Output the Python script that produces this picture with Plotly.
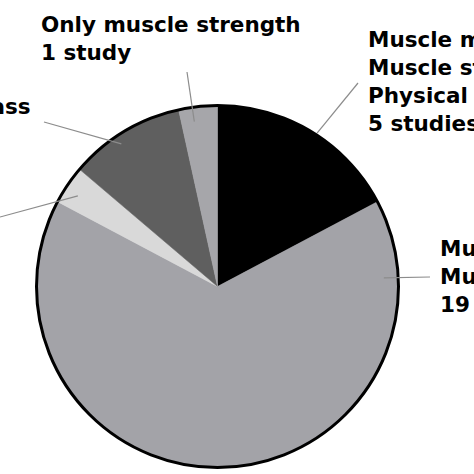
"""Pie chart of study outcome combinations."""

import math

import plotly.graph_objects as go

W = H = 474

labels = [
    "Muscle mass<br>Muscle strength<br>Physical performance<br>5 studies",
    "Muscle mass<br>Muscle strength<br>19 studies",
    "Muscle strength<br>Physical performance<br>1 study",
    "Only muscle mass<br>3 studies",
    "Only muscle strength<br>1 study",
]
studies = [5, 19, 1, 3, 1]
colors = ["#000000", "#a3a3a8", "#d9d9d9", "#5f5f5f", "#a6a6aa"]

# pie geometry in pixels
CX, CY, R = 217.5, 286.5, 181

# label boxes: (x px, y px, xanchor) and leader line (angle deg, r-fraction, end x px, end y px)
label_pos = [(366, 25, "left"), (438, 234, "left"), (-12, 200, "right"), (33, 92, "right"), (39, 10, "left")]
leaders = [(33, 1.01, 358, 83), (87, 0.92, 430, 277), (303, 0.92, 0, 217), (326, 0.95, 44, 122), (352, 0.92, 187, 72)]


def px(x):
    return x / W


def py(y):
    return 1 - y / H


fig = go.Figure(
    go.Pie(
        values=studies,
        labels=labels,
        sort=False,
        direction="clockwise",
        rotation=0,
        textinfo="none",
        hoverinfo="label+value",
        marker={"colors": colors, "line": {"color": colors, "width": 0.5}},
        domain={"x": [px(CX - R), px(CX + R)], "y": [py(CY + R), py(CY - R)]},
    )
)

shapes = [
    {
        "type": "circle", "xref": "paper", "yref": "paper",
        "x0": px(CX - R), "x1": px(CX + R), "y0": py(CY + R), "y1": py(CY - R),
        "line": {"color": "black", "width": 3}, "layer": "above",
    }
]
for ang, rf, ex, ey in leaders:
    a = math.radians(ang)
    sx = CX + rf * R * math.sin(a)
    sy = CY - rf * R * math.cos(a)
    shapes.append({
        "type": "line", "xref": "paper", "yref": "paper",
        "x0": px(sx), "y0": py(sy), "x1": px(ex), "y1": py(ey),
        "line": {"color": "#8c8c8c", "width": 1.2}, "layer": "above",
    })

annotations = []
for text, (x, y, anchor) in zip(labels, label_pos):
    annotations.append({
        "text": f"<b>{text}</b>", "xref": "paper", "yref": "paper",
        "x": px(x), "y": py(y), "xanchor": anchor, "yanchor": "top",
        "align": "left", "showarrow": False,
        "font": {"family": "DejaVu Sans", "size": 21.5, "color": "black"},
    })

fig.update_layout(
    width=W, height=H,
    margin={"l": 0, "r": 0, "t": 0, "b": 0},
    paper_bgcolor="white",
    showlegend=False,
    shapes=shapes,
    annotations=annotations,
)

fig.write_html(
    "out.html",
    config={"displayModeBar": False},
    post_script="document.body.style.margin='0';",
)
